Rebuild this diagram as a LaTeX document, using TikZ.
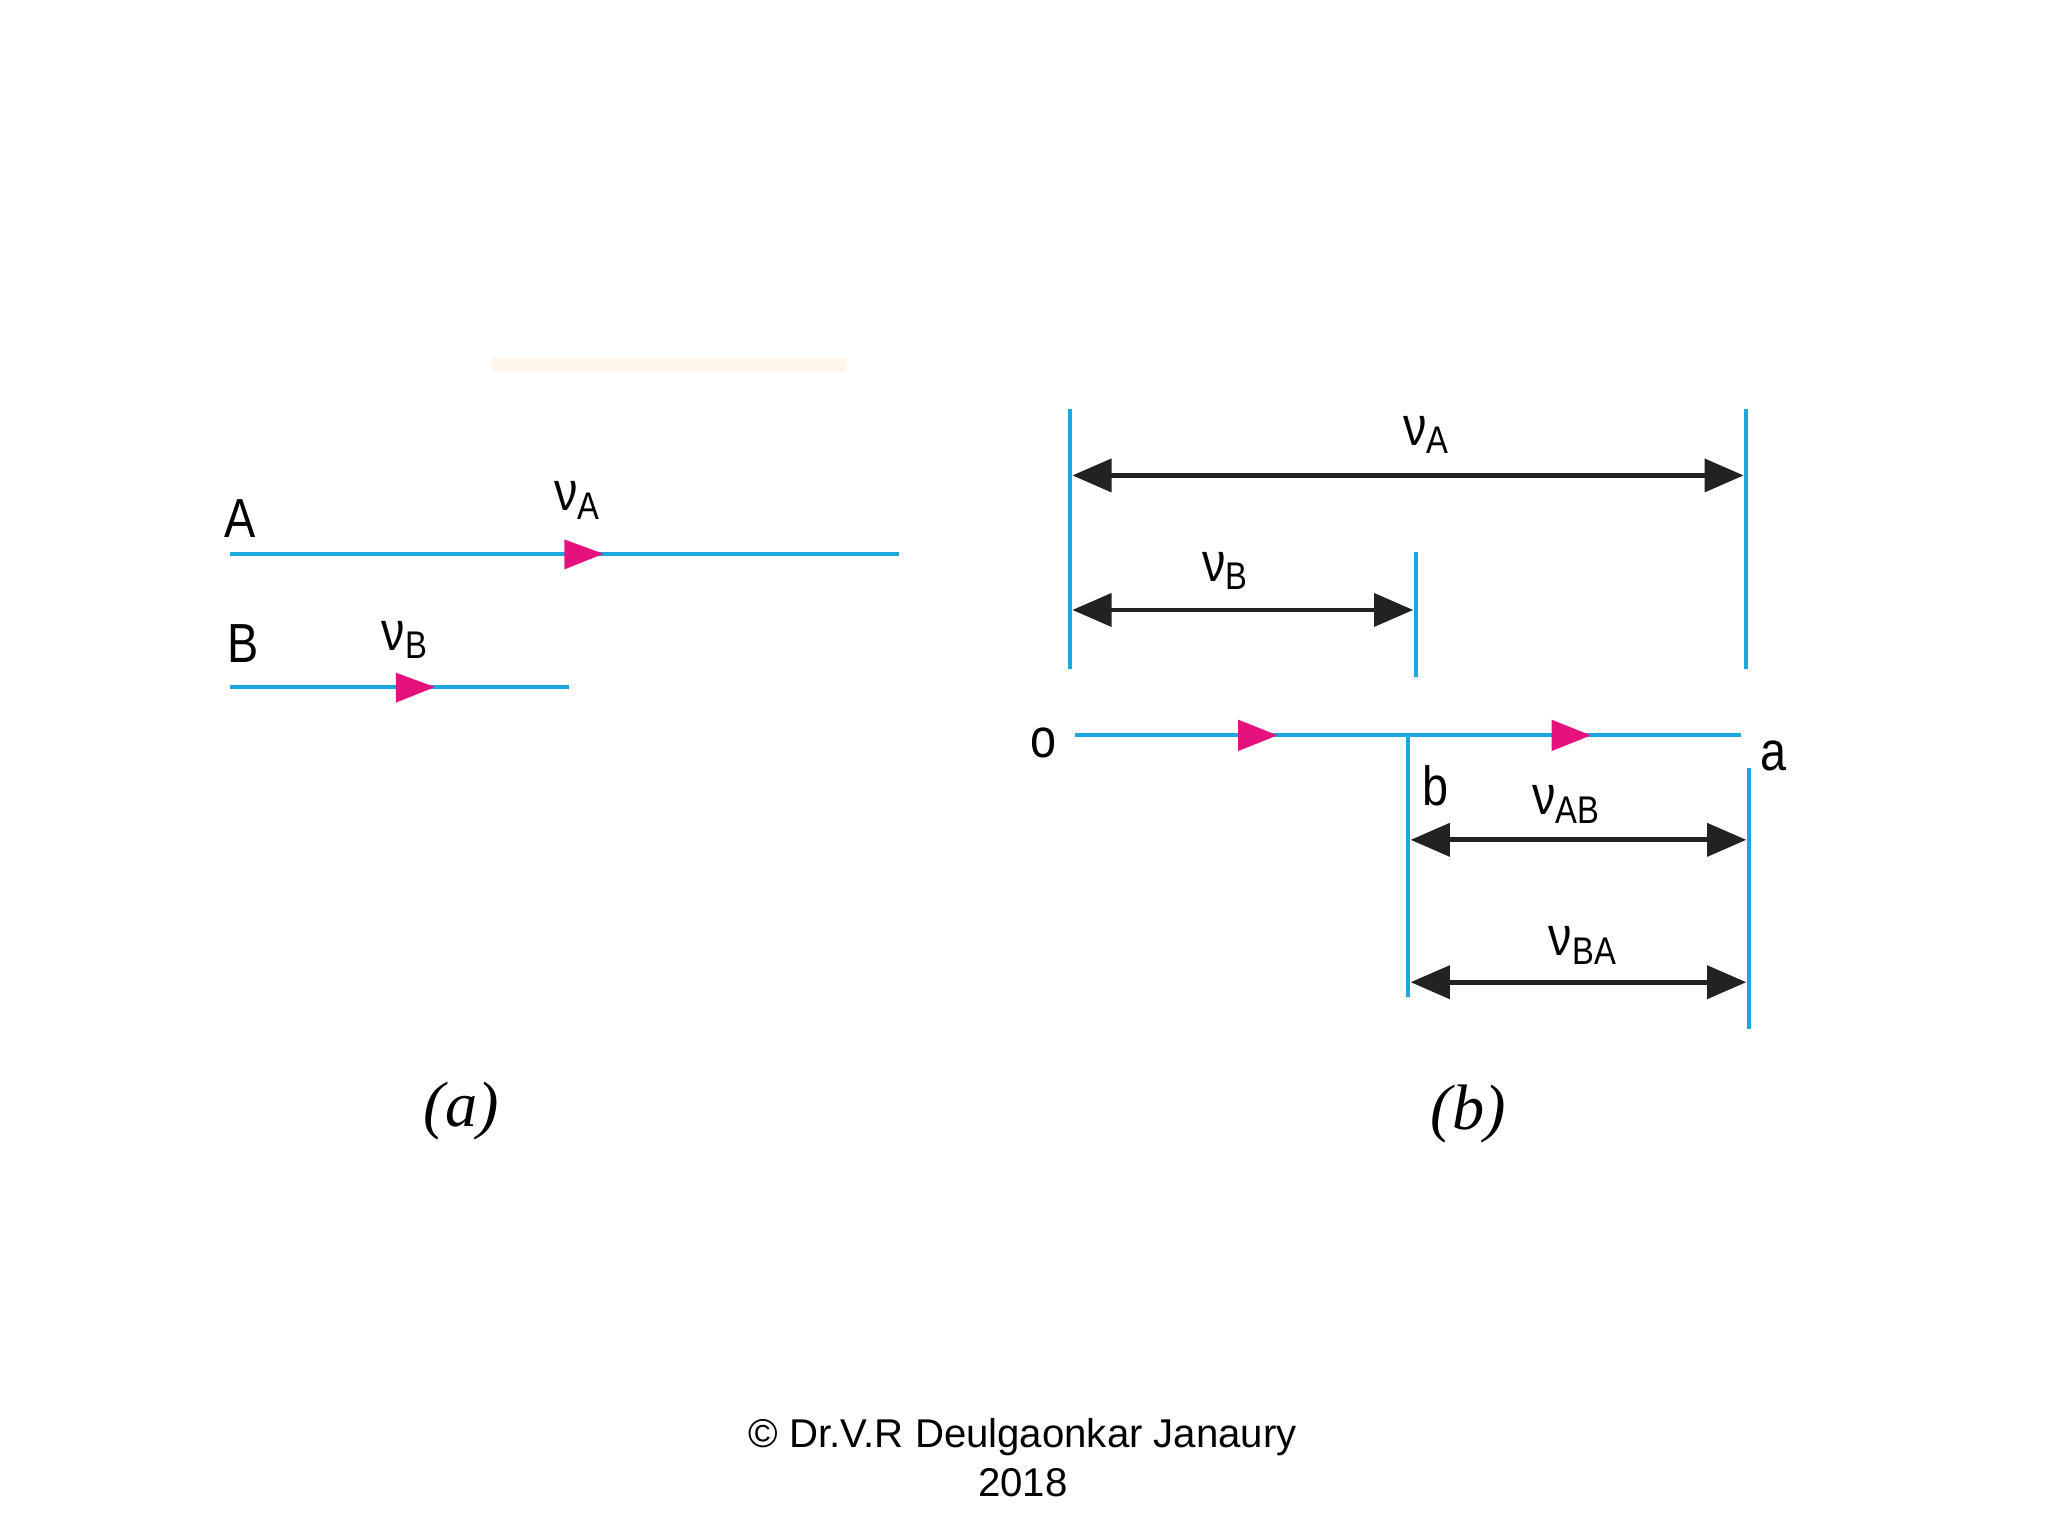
\documentclass[tikz,border=0pt]{standalone}
\usepackage{fontspec}
\setmainfont{Liberation Sans}
\newfontfamily\serifcap{Liberation Serif}
\usetikzlibrary{arrows.meta}
\definecolor{cy}{HTML}{1BA8E0}
\definecolor{mg}{HTML}{E5127D}
\definecolor{bk}{HTML}{222222}
\begin{document}
\begin{tikzpicture}[x=0.02cm,y=-0.02cm,
  cl/.style={cy,line width=0.06cm},
  tri/.style={fill=mg},
  dim/.style={bk,line width=0.075cm,{Triangle[length=0.6cm,width=0.5cm]}-{Triangle[length=0.6cm,width=0.5cm]}},
  lab/.style={font=\fontsize{24}{28}\selectfont,inner sep=0,xscale=0.85},
  captxt/.style={font=\fontsize{28}{32}\selectfont\serifcap\itshape,inner sep=0}]
\useasboundingbox (0,0) rectangle (1568,1176);
\fill[white] (0,0) rectangle (1568,1176);
\fill[orange!8] (377,274) rectangle (648,285);
% (a)
\draw[cl] (176,424) -- (688,424);
\fill[tri] (432,413) -- (462,424) -- (432,436) -- cycle;
\draw[cl] (176,526) -- (436,526);
\fill[tri] (303,515) -- (333,526) -- (303,538) -- cycle;
\node[lab] (A) at (184,397) {A};
\node[lab] (vA) at (442,383) {ν\textsubscript{A}};
\node[lab] (B) at (186,493) {B};
\node[lab] (vB) at (310,490) {ν\textsubscript{B}};
\node[captxt] (ca) at (353,851) {(a)};
% (b)
\draw[cl] (819,313) -- (819,512);
\draw[cl] (1337,313) -- (1337,512);
\draw[cl] (1084,423) -- (1084,518);
\draw[dim] (821,364) -- (1335,364);
\draw[dim] (821,467) -- (1082,467);
\node[lab] (vA2) at (1092,333) {ν\textsubscript{A}};
\node[lab] (vB2) at (938,437) {ν\textsubscript{B}};
\draw[cl] (823,563) -- (1333,563);
\fill[tri] (948,551) -- (978,563) -- (948,575) -- cycle;
\fill[tri] (1188,551) -- (1218,563) -- (1188,575) -- cycle;
\node[lab] (o) at (799,569) {o};
\node[lab] (a) at (1358,579) {a};
\draw[cl] (1078,563) -- (1078,763);
\draw[cl] (1339,588) -- (1339,788);
\node[lab] (b) at (1099,602) {b};
\draw[dim] (1080,643) -- (1337,643);
\draw[dim] (1080,752) -- (1337,752);
\node[lab] (vAB) at (1199,616) {ν\textsubscript{AB}};
\node[lab] (vBA) at (1212,724) {ν\textsubscript{BA}};
\node[captxt] (cb) at (1124,853) {(b)};
\node[font=\fontsize{17.5}{21}\selectfont,align=center] (c) at (783,1116) {© Dr.V.R Deulgaonkar Janaury\\2018};
\end{tikzpicture}
\end{document}
